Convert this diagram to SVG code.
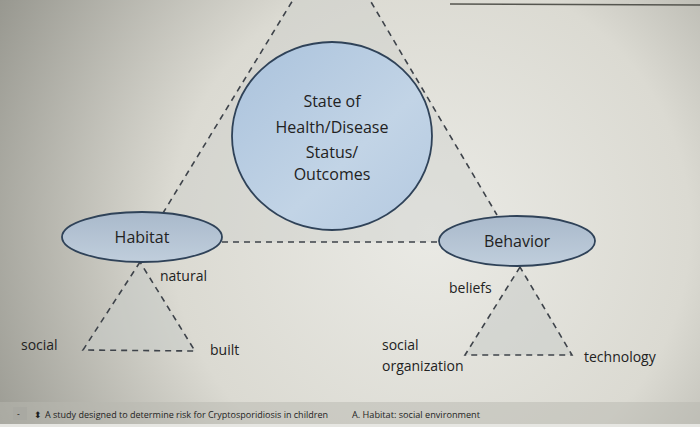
<svg xmlns="http://www.w3.org/2000/svg" width="700" height="427" viewBox="0 0 700 427">
<defs>
<radialGradient id="bg" cx="430" cy="230" r="520" gradientUnits="userSpaceOnUse">
<stop offset="0" stop-color="#eaeae5"/>
<stop offset="0.5" stop-color="#dbdad2"/>
<stop offset="1" stop-color="#8e8e86"/>
</radialGradient>
<linearGradient id="circ" x1="0" y1="0" x2="1" y2="1">
<stop offset="0" stop-color="#aac2dc"/>
<stop offset="0.6" stop-color="#c2d4e6"/>
<stop offset="1" stop-color="#b4c9e0"/>
</linearGradient>
<linearGradient id="ell" x1="0" y1="0" x2="0" y2="1">
<stop offset="0" stop-color="#a9b9cb"/>
<stop offset="1" stop-color="#c0cedc"/>
</linearGradient>
<style>
.t{font-family:"Open Sans","Liberation Sans",sans-serif;fill:#222}
.lbl{font-size:14px}
.dash{stroke:#3e434a;stroke-width:1.6;stroke-dasharray:6,5;fill:none}
.tri{fill:#c9ccc9;fill-opacity:0.55;stroke:#3e434a;stroke-width:1.6;stroke-dasharray:6,5}
.bigtri{fill:#c8cbc8;fill-opacity:0.35;stroke:none}
.node{stroke:#2f4258;stroke-width:1.8}
.foot{font-family:"Open Sans","Liberation Sans",sans-serif;font-size:8.6px;fill:#1e1e1e}
</style>
</defs>
<rect width="700" height="427" fill="url(#bg)"/>
<line x1="450" y1="4" x2="700" y2="5" stroke="#55554f" stroke-width="1.5"/>
<rect x="0" y="402" width="700" height="22" fill="#b8b8b0" opacity="0.5"/>
<rect x="0" y="424" width="700" height="3" fill="#e6e6e2"/>

<g id="connectors">
<polygon class="bigtri" points="332,-64 145,242 514,242"/>
<line class="dash" x1="332" y1="-64" x2="163" y2="213"/>
<line class="dash" x1="332" y1="-64" x2="497" y2="215"/>
<line class="dash" x1="222" y1="242" x2="440" y2="242"/>
<polygon class="tri" points="140,262 83,350 195,351"/>
<polygon class="tri" points="520,267 465,355 572,355"/>
</g>

<g id="state">
<ellipse class="node" cx="332" cy="136" rx="100" ry="94" fill="url(#circ)"/>
<text class="t" font-size="16" text-anchor="middle" x="332" y="107">State of</text>
<text class="t" font-size="16" text-anchor="middle" x="332" y="133">Health/Disease</text>
<text class="t" font-size="16" text-anchor="middle" x="332" y="158">Status/</text>
<text class="t" font-size="16" text-anchor="middle" x="332" y="180">Outcomes</text>
</g>

<g id="habitat">
<ellipse class="node" cx="142" cy="237" rx="80" ry="25" fill="url(#ell)"/>
<text class="t" font-size="16" text-anchor="middle" x="142" y="243">Habitat</text>
</g>

<g id="behavior">
<ellipse class="node" cx="517" cy="241" rx="78" ry="25" fill="url(#ell)"/>
<text class="t" font-size="16" text-anchor="middle" x="517" y="247">Behavior</text>
</g>

<g id="habitat-labels">
<text class="t lbl" x="160" y="281">natural</text>
<text class="t lbl" x="21" y="350">social</text>
<text class="t lbl" x="210" y="355">built</text>
</g>

<g id="behavior-labels">
<text class="t lbl" x="449" y="293">beliefs</text>
<text class="t lbl" x="382" y="350">social</text>
<text class="t lbl" x="382" y="371">organization</text>
<text class="t lbl" x="584" y="362">technology</text>
</g>

<g id="footer">
<rect x="13" y="407" width="14" height="13" fill="#a9a9a2"/>
<text class="foot" x="17" y="417">-</text>
<text class="foot" x="34" y="418" font-size="9">⬍</text>
<text class="foot" x="45" y="418" textLength="283" lengthAdjust="spacingAndGlyphs">A study designed to determine risk for Cryptosporidiosis in children</text>
<text class="foot" x="352" y="418" textLength="128" lengthAdjust="spacingAndGlyphs">A. Habitat:  social environment</text>
</g>
</svg>
